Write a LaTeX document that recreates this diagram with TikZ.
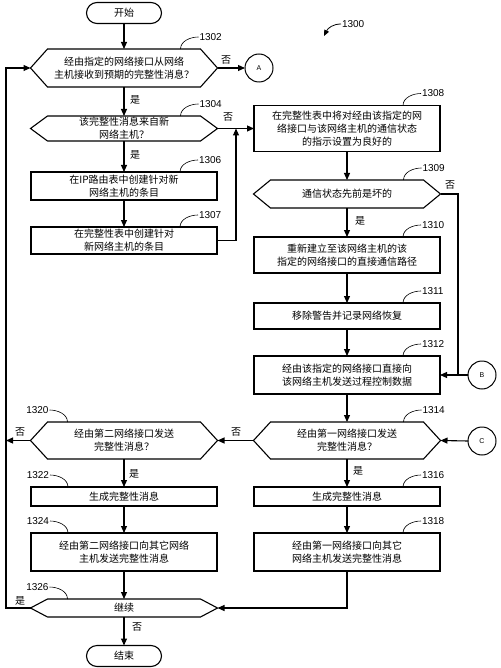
\documentclass[tikz,border=0pt]{standalone}
\usepackage{fontspec}
\setmainfont{Liberation Sans}
\newfontfamily\cjk{Noto Sans CJK SC}
\usetikzlibrary{arrows.meta,calc,shapes.misc}
\newcommand\hexdraw[1]{\draw[box] ($(#1.north west)+(17,0)$) -- ($(#1.north east)+(-17,0)$) -- (#1.east) -- ($(#1.south east)+(-17,0)$) -- ($(#1.south west)+(17,0)$) -- (#1.west) -- cycle;}
\newcommand\rlab[2]{\draw[lead] ($(#1.north east)+(-37,0)$) .. controls +(0,-8) and +(-8,0) .. ($(#1.north east)+(-19,-12)$) node[lbl,anchor=west] (l#2) {#2};}
\newcommand\llab[2]{\draw[lead] ($(#1.north west)+(37,0)$) .. controls +(0,-8) and +(8,0) .. ($(#1.north west)+(19,-12)$) node[lbl,anchor=east] (l#2) {#2};}
\begin{document}
\begin{tikzpicture}[x=1pt,y=-1pt,
 every node/.style={inner sep=0pt,outer sep=0pt},
 box/.style={draw,line width=1.1pt},
 pbox/.style={box,minimum width=186pt,align=center,font=\cjk\fontsize{10}{13}\selectfont},
 hbox/.style={minimum width=187pt,align=center,font=\cjk\fontsize{10}{13}\selectfont},
 term/.style={draw,line width=1.1pt,rounded rectangle,minimum width=75pt,minimum height=21pt,font=\cjk\fontsize{10}{12}\selectfont},
 conn/.style={draw,circle,line width=1pt,minimum size=28pt,font=\fontsize{7}{8}\selectfont},
 arr/.style={line width=1.1pt,-{Triangle[length=7pt,width=6pt]}},
 ln/.style={line width=1.1pt},
 yn/.style={font=\cjk\fontsize{10}{12}\selectfont},
 lbl/.style={inner sep=1pt,font=\fontsize{10}{12}\selectfont},
 lead/.style={line width=0.6pt}
]
\useasboundingbox (0,0) rectangle (500,668);

% terminals
\node[term] (start) at (124,13) {开始};
\node[term] (end) at (124,656) {结束};

% left column
\node[hbox,minimum height=38pt] (d1302) at (124,68) {经由指定的网络接口从网络\\主机接收到预期的完整性消息？};
\node[hbox,minimum height=25pt] (d1304) at (124,128.5) {该完整性消息来自新\\网络主机？};
\node[pbox,minimum height=28pt] (b1306) at (124,186) {在IP路由表中创建针对新\\网络主机的条目};
\node[pbox,minimum height=27pt] (b1307) at (124,240.5) {在完整性表中创建针对\\新网络主机的条目};
\node[hbox,minimum height=37pt] (d1320) at (124,440.5) {经由第二网络接口发送\\完整性消息？};
\node[pbox,minimum height=19pt] (b1322) at (124,496.5) {生成完整性消息};
\node[pbox,minimum height=38pt] (b1324) at (124,552) {经由第二网络接口向其它网络\\主机发送完整性消息};
\node[hbox,minimum height=18pt] (d1326) at (124,608) {继续};

% right column
\node[pbox,minimum height=46pt] (b1308) at (347,128.5) {在完整性表中将对经由该指定的网\\络接口与该网络主机的通信状态\\的指示设置为良好的};
\node[hbox,minimum height=28pt] (d1309) at (347,194) {通信状态先前是坏的};
\node[pbox,minimum height=36pt] (b1310) at (347,255) {重新建立至该网络主机的该\\指定的网络接口的直接通信路径};
\node[pbox,minimum height=26pt] (b1311) at (347,316) {移除警告并记录网络恢复};
\node[pbox,minimum height=38pt] (b1312) at (347,375) {经由该指定的网络接口直接向\\该网络主机发送过程控制数据};
\node[hbox,minimum height=37pt] (d1314) at (347,440.5) {经由第一网络接口发送\\完整性消息？};
\node[pbox,minimum height=19pt] (b1316) at (347,496.5) {生成完整性消息};
\node[pbox,minimum height=38pt] (b1318) at (347,552) {经由第一网络接口向其它\\网络主机发送完整性消息};

% hexagon outlines
\hexdraw{d1302}
\hexdraw{d1304}
\hexdraw{d1309}
\hexdraw{d1314}
\hexdraw{d1320}
\hexdraw{d1326}

% connectors (circles)
\node[conn] (A) at (259,68) {A};
\node[conn] (B) at (482,375) {B};
\node[conn] (C) at (482,441) {C};

% route coordinates
\coordinate (m0) at (6,0);
\coordinate (m1) at (236,0);
\coordinate (m2) at (458,0);

% arrows
\draw[arr] (start) -- (d1302);
\draw[arr] (d1302) -- (d1304);
\draw[arr] (d1302.east) -- (A);
\draw[arr] (d1304) -- (b1306);
\draw[arr] (b1306) -- (b1307);
\draw[arr] (d1304.east) -- (d1304.east -| b1308.west);
\draw[arr] (b1307.east) -- (b1307.east -| m1) -- (m1 |- d1304.east);
\draw[arr] (b1308) -- (d1309);
\draw[arr] (d1309) -- (b1310);
\draw[arr] (b1310) -- (b1311);
\draw[arr] (b1311) -- (b1312);
\draw[ln] (d1309.east) -- (d1309.east -| m2) -- (m2 |- b1312.east);
\draw[arr] (B.west) -- (b1312.east);
\draw[arr] (b1312) -- (d1314);
\draw[arr] (C.west) -- (d1314.east);
\draw[arr] (d1314) -- (b1316);
\draw[arr] (b1316) -- (b1318);
\draw[arr] (b1318.south) |- (d1326.east);
\draw[arr] (d1314.west) -- (d1320.east);
\draw[arr] (d1320) -- (b1322);
\draw[arr] (b1322) -- (b1324);
\draw[arr] (b1324) -- (d1326);
\draw[arr] (d1326) -- (end);
\draw[arr] (d1320.west) -- (d1320.west -| m0);
\draw[arr] (d1326.west) -- (d1326.west -| m0) -- (m0 |- d1302.west) -- (d1302.west);

% yes / no labels
\node[yn] (n1) at (226,60) {否};
\node[yn] (y1) at (135,100) {是};
\node[yn] (n2) at (228,117) {否};
\node[yn] (y2) at (135,155) {是};
\node[yn] (n3) at (450,185) {否};
\node[yn] (y3) at (360,221) {是};
\node[yn] (n4) at (236,432) {否};
\node[yn] (y4) at (358,471) {是};
\node[yn] (n5) at (20,432) {否};
\node[yn] (y5) at (134,474) {是};
\node[yn] (y6) at (20,601) {是};
\node[yn] (n6) at (137,627) {否};

% reference numerals
\rlab{d1302}{1302}
\rlab{d1304}{1304}
\rlab{b1306}{1306}
\rlab{b1307}{1307}
\rlab{b1308}{1308}
\rlab{d1309}{1309}
\rlab{b1310}{1310}
\rlab{b1311}{1311}
\rlab{b1312}{1312}
\rlab{d1314}{1314}
\rlab{b1316}{1316}
\rlab{b1318}{1318}
\llab{d1320}{1320}
\llab{b1322}{1322}
\llab{b1324}{1324}
\llab{d1326}{1326}

\node[lbl,anchor=west] (l1300) at (341,24) {1300};
\draw[line width=0.8pt,-{Triangle[length=6pt,width=5pt]}] (l1300.west) .. controls (333,24) and (328,28) .. (324,36);
\end{tikzpicture}
\end{document}
